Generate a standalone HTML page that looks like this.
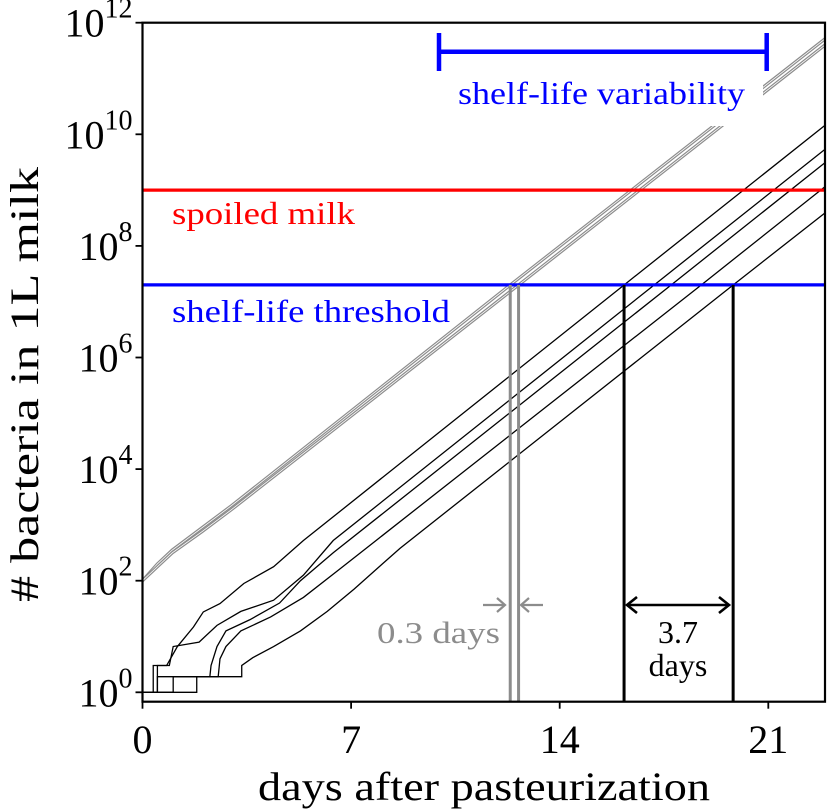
<!DOCTYPE html>
<html><head><meta charset="utf-8">
<style>
html,body{margin:0;padding:0;background:#fff;}
svg{display:block;font-family:"Liberation Serif",serif;}
</style></head>
<body>
<svg id="chart" width="827" height="812" viewBox="0 0 827 812" xmlns="http://www.w3.org/2000/svg">
<defs><clipPath id="plotclip"><rect x="142.5" y="22.7" width="682.5" height="679"/></clipPath></defs>
</svg>
<script>
// ---- data ----
const xTicks = [0, 7, 14, 21];
const yTickExps = [0, 2, 4, 6, 8, 10, 12];
const grayLine1 = [[0,2],[0.5,2.3],[1,2.55],[2,2.95],[3,3.35],[12.34,7.3],[22.9,11.71]];
const grayLine2 = [[0,2],[0.5,2.25],[1,2.5],[2,2.88],[3,3.28],[12.62,7.3],[22.9,11.6]];
const blackLine1 = [[0,0],[0.36,0],[0.36,0.48],[0.81,0.48],[1.17,0.82],[1.71,1.17],[2.04,1.44],[2.6,1.59],[3.4,1.95],[4.4,2.25],[5.4,2.72],[16.16,7.3],[22.9,10.16]];
const blackLine2 = [[0,0],[0.5,0],[0.5,0.48],[0.9,0.48],[1.03,0.82],[1.9,0.9],[2.5,1.2],[3.3,1.45],[4.4,1.65],[5.4,2.1],[6.4,2.72],[17.17,7.3],[22.9,9.73]];
const blackLine3 = [[0,0],[0.5,0],[0.5,0.28],[2.26,0.28],[2.3,0.48],[2.5,0.82],[2.8,1.1],[3.6,1.3],[4.6,1.6],[5.3,2.0],[6.4,2.5],[17.74,7.3],[22.9,9.49]];
const blackLine4 = [[0,0],[1.03,0],[1.03,0.28],[2.54,0.28],[2.6,0.6],[2.8,0.82],[3.3,1.1],[4.3,1.35],[5.4,1.7],[6.6,2.2],[7.86,2.73],[18.75,7.3],[22.9,9.06]];
const blackLine5 = [[0,0],[1.82,0],[1.82,0.28],[3.33,0.28],[3.33,0.48],[3.7,0.62],[4.4,0.82],[5.3,1.1],[6.2,1.45],[7.1,1.85],[8.64,2.58],[19.82,7.3],[22.9,8.59]];
const spoiledExp = 9;
const thresholdExp = 7.301;
const grayCross = [12.34, 12.62];
const blackCross = [16.16, 19.82];

// ---- axes ----
const X0 = 142.5, PX_DAY = 29.8, Y0 = 692.3, PX_DEC = 55.8;
const X = d => X0 + d * PX_DAY;
const Y = e => Y0 - e * PX_DEC;
const LEFT = 142.5, RIGHT = 825, TOP = 22.7, BOTTOM = 701.7;

const svg = document.getElementById('chart');
const NS = 'http://www.w3.org/2000/svg';
function mk(tag, attrs, parent) {
  const e = document.createElementNS(NS, tag);
  for (const k in attrs) e.setAttribute(k, attrs[k]);
  (parent || svg).appendChild(e);
  return e;
}
const pts = arr => arr.map(p => X(p[0]).toFixed(2) + ',' + Y(p[1]).toFixed(2)).join(' ');

const plot = mk('g', {'clip-path': 'url(#plotclip)'});



[grayLine1, grayLine2].forEach((ln, i) => {
  const a = mk('polyline', {points: pts(ln), fill: 'none', stroke: '#8c8c8c', 'stroke-width': 3.2}, plot);
  
  
  mk('polyline', {points: pts(ln), fill: 'none', stroke: '#fff', 'stroke-width': 0.8}, plot);
});
[blackLine1, blackLine2, blackLine3, blackLine4, blackLine5].forEach((ln, i) => {
  const a = mk('polyline', {points: pts(ln), fill: 'none', stroke: '#000', 'stroke-width': 1.3}, plot);
  
  
});
mk('rect', {x: 445, y: 82, width: 318, height: 44, fill: '#fff'}, plot);

const red = mk('line', {x1: LEFT, x2: RIGHT, y1: Y(spoiledExp), y2: Y(spoiledExp), stroke: '#ff0000', 'stroke-width': 3.2});


const blue = mk('line', {x1: LEFT, x2: RIGHT, y1: Y(thresholdExp), y2: Y(thresholdExp), stroke: '#0000ff', 'stroke-width': 3.2});



grayCross.forEach((d, i) => {
  const v = mk('line', {x1: X(d), x2: X(d), y1: Y(thresholdExp), y2: BOTTOM, stroke: '#8c8c8c', 'stroke-width': 3});
  
  
});
blackCross.forEach((d, i) => {
  const v = mk('line', {x1: X(d), x2: X(d), y1: Y(thresholdExp), y2: BOTTOM, stroke: '#000', 'stroke-width': 3});
  
  
});

const frame = mk('rect', {x: LEFT, y: TOP, width: RIGHT - LEFT, height: BOTTOM - TOP, fill: 'none', stroke: '#000', 'stroke-width': 2.2});



xTicks.forEach(t => {
  mk('line', {x1: X(t), x2: X(t), y1: BOTTOM, y2: BOTTOM + 7, stroke: '#000', 'stroke-width': 1.8});
  const tx = mk('text', {x: X(t), y: 753, 'font-size': 40, 'text-anchor': 'middle', fill: '#000'});
  tx.textContent = t;
  
  
});
yTickExps.forEach(e => {
  mk('line', {x1: LEFT - 7, x2: LEFT, y1: Y(e), y2: Y(e), stroke: '#000', 'stroke-width': 1.8});
  const tx = mk('text', {x: LEFT - 10, y: Y(e) + 14, 'font-size': 40, 'text-anchor': 'end', fill: '#000'});
  const base = mk('tspan', {}, tx); base.textContent = '10';
  const sup = mk('tspan', {'font-size': 28, dy: -19}, tx); sup.textContent = e;
  
  
});

const xt = mk('text', {x: 258, y: 800, 'font-size': 40, fill: '#000', textLength: 452, lengthAdjust: 'spacingAndGlyphs'});
xt.textContent = 'days after pasteurization';


const yt = mk('text', {x: 0, y: 0, 'font-size': 40, fill: '#000', textLength: 435, lengthAdjust: 'spacingAndGlyphs', transform: 'translate(38,602) rotate(-90)'});
yt.textContent = '# bacteria in 1L milk';



const sm = mk('text', {x: 172, y: 224, 'font-size': 32, fill: '#ff0000', textLength: 183, lengthAdjust: 'spacingAndGlyphs'});
sm.textContent = 'spoiled milk';


const st = mk('text', {x: 172, y: 322, 'font-size': 32, fill: '#0000ff', textLength: 278, lengthAdjust: 'spacingAndGlyphs'});
st.textContent = 'shelf-life threshold';



const bx1 = 439, bx2 = 766.7, by = 51.7;
const br = mk('g', {stroke: '#0000ff', 'stroke-width': 4.5});


mk('line', {x1: bx1, x2: bx2, y1: by, y2: by}, br);
mk('line', {x1: bx1, x2: bx1, y1: 33, y2: 71}, br);
mk('line', {x1: bx2, x2: bx2, y1: 33, y2: 71}, br);
const vt = mk('text', {x: 458, y: 104, 'font-size': 32, fill: '#0000ff', textLength: 287, lengthAdjust: 'spacingAndGlyphs'});
vt.textContent = 'shelf-life variability';



const ga = mk('g', {stroke: '#8c8c8c', 'stroke-width': 2.2, fill: 'none'});


mk('line', {x1: 483, x2: 505, y1: 605, y2: 605}, ga);
mk('polyline', {points: '497,598 505,605 497,612'}, ga);
mk('line', {x1: 521, x2: 543, y1: 605, y2: 605}, ga);
mk('polyline', {points: '529,598 521,605 529,612'}, ga);
const g3 = mk('text', {x: 377, y: 643, 'font-size': 31, fill: '#8c8c8c', textLength: 123, lengthAdjust: 'spacingAndGlyphs'});
g3.textContent = '0.3 days';



const ba = mk('g', {stroke: '#000', 'stroke-width': 2.6, fill: 'none'});


mk('line', {x1: 627, x2: 729, y1: 605, y2: 605}, ba);
mk('polyline', {points: '637,597 627,605 637,613'}, ba);
mk('polyline', {points: '719,597 729,605 719,613'}, ba);
const b1 = mk('text', {x: 678, y: 643, 'font-size': 32, fill: '#000', 'text-anchor': 'middle'});
b1.textContent = '3.7';


const b2 = mk('text', {x: 678, y: 676, 'font-size': 32, fill: '#000', 'text-anchor': 'middle'});
b2.textContent = 'days';


</script>
</body></html>
